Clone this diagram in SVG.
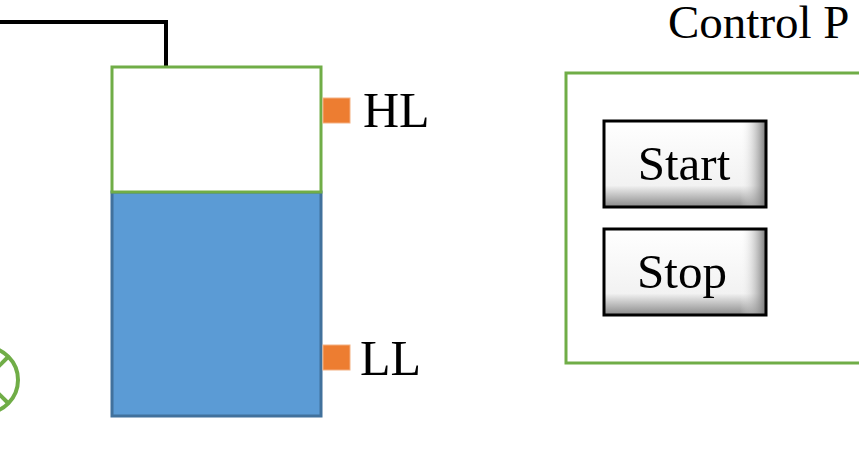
<svg xmlns="http://www.w3.org/2000/svg" width="859" height="451" viewBox="0 0 859 451">
<style>
text{font-family:"Liberation Serif","Times New Roman","DejaVu Serif",serif;fill:#000}
.sensor{fill:#ED7D31;stroke:#F4B183;stroke-width:1}
.btn-face{fill:url(#bev)}
.btn-border{fill:none;stroke:#000;stroke-width:3}
</style>
<defs>
<linearGradient id="bev" x1="0" y1="0" x2="0" y2="1">
<stop offset="0" stop-color="#ffffff"/><stop offset="0.75" stop-color="#f2f2f2"/><stop offset="1" stop-color="#8a8a8a"/>
</linearGradient>
<linearGradient id="side" x1="0" y1="0" x2="1" y2="0">
<stop offset="0" stop-color="#fff" stop-opacity="0"/><stop offset="1" stop-color="#777"/>
</linearGradient>
</defs>
<rect width="859" height="451" fill="#fff"/>
<g id="connectors">
<polyline points="0,22 166,22 166,67" fill="none" stroke="#000" stroke-width="4"/>
</g>
<g id="valve">
<circle cx="-15" cy="380" r="33" fill="none" stroke="#70AD47" stroke-width="4"/>
<line x1="-38" y1="357" x2="8" y2="403" stroke="#70AD47" stroke-width="4"/>
<line x1="-38" y1="403" x2="8" y2="357" stroke="#70AD47" stroke-width="4"/>
</g>
<g id="tank">
<rect x="112" y="192" width="209" height="224" fill="#5B9BD5" stroke="#41719C" stroke-width="3"/>
<rect x="112" y="67" width="209" height="125" fill="#fff" stroke="#70AD47" stroke-width="3"/>
</g>
<g id="HL"><rect class="sensor" x="323" y="98" width="27" height="25"/><text x="363" y="127" font-size="50">HL</text></g>
<g id="LL"><rect class="sensor" x="323" y="345" width="27" height="25"/><text x="360" y="375" font-size="50">LL</text></g>
<g id="panel">
<text x="668" y="38" font-size="47">Control P</text>
<rect x="566" y="73" width="300" height="290" fill="none" stroke="#70AD47" stroke-width="3"/>
</g>
<g id="start">
<rect class="btn-face" x="604" y="121" width="162" height="86"/>
<rect x="740" y="121" width="26" height="86" fill="url(#side)"/>
<rect class="btn-border" x="604" y="121" width="162" height="86"/>
<text x="684" y="180" font-size="49" text-anchor="middle">Start</text>
</g>
<g id="stop">
<rect class="btn-face" x="604" y="229" width="162" height="86"/>
<rect x="740" y="229" width="26" height="86" fill="url(#side)"/>
<rect class="btn-border" x="604" y="229" width="162" height="86"/>
<text x="682" y="288" font-size="49" text-anchor="middle">Stop</text>
</g>
</svg>
